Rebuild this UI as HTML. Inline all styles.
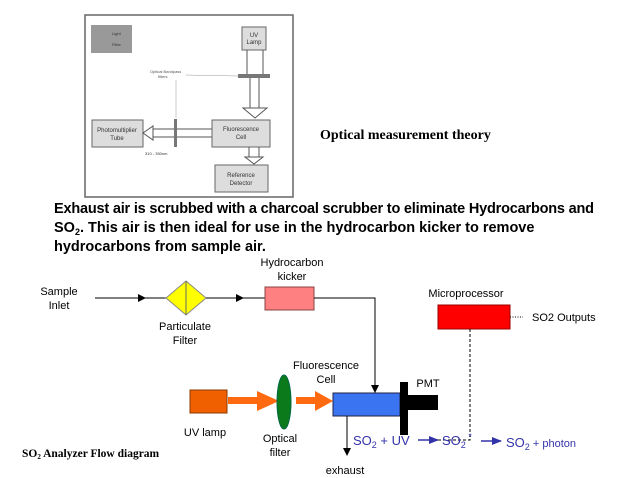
<!DOCTYPE html>
<html><head><meta charset="utf-8"><style>
html,body{margin:0;padding:0;background:#fff;width:638px;height:478px;overflow:hidden}
svg{display:block}
text{font-family:"Liberation Sans",sans-serif}
.s{font-family:"Liberation Serif",serif;font-weight:bold}
</style></head><body>
<svg width="638" height="478" viewBox="0 0 638 478" xmlns="http://www.w3.org/2000/svg">
<defs>
<marker id="ab" markerWidth="8" markerHeight="8" refX="7" refY="4" orient="auto" markerUnits="userSpaceOnUse"><path d="M0,0 L8,4 L0,8 Z" fill="#000"/></marker>
<marker id="bb" markerWidth="10" markerHeight="8" refX="9" refY="4" orient="auto" markerUnits="userSpaceOnUse"><path d="M0,0 L10,4 L0,8 Z" fill="#3333aa"/></marker>
</defs>
<rect x="85" y="15" width="208" height="182" fill="#fff" stroke="#666" stroke-width="1.5"/>
<rect x="91" y="25" width="41" height="28" fill="#999"/>
<text x="112" y="35" font-size="4" fill="#333">Light</text>
<text x="112" y="46" font-size="4" fill="#333">Filter</text>
<rect x="242" y="27" width="24" height="23" fill="#ddd" stroke="#666"/>
<text x="254" y="37" font-size="6" text-anchor="middle" fill="#333">UV</text>
<text x="254" y="44" font-size="6" text-anchor="middle" fill="#333">Lamp</text>
<line x1="247" y1="50" x2="247" y2="75" stroke="#555"/><line x1="263" y1="50" x2="263" y2="75" stroke="#555"/>
<rect x="238" y="74" width="32" height="4" fill="#777"/>
<line x1="250" y1="78" x2="250" y2="108" stroke="#555"/><line x1="259" y1="78" x2="259" y2="108" stroke="#555"/>
<path d="M243,108 L267,108 L255,118 Z" fill="#fff" stroke="#555"/>
<text x="150" y="73" font-size="4" fill="#555">Optical Bandpass</text>
<text x="158" y="78" font-size="4" fill="#555">filters</text>
<line x1="186" y1="75" x2="238" y2="76" stroke="#999" stroke-width="0.5"/>
<line x1="176" y1="80" x2="176" y2="118" stroke="#999" stroke-width="0.5"/>
<rect x="92" y="120" width="51" height="27" fill="#ddd" stroke="#666"/>
<text x="117" y="132" font-size="6" text-anchor="middle" fill="#333">Photomultiplier</text>
<text x="117" y="140" font-size="6" text-anchor="middle" fill="#333">Tube</text>
<path d="M143,133 L153,126 L153,140 Z" fill="#fff" stroke="#555"/>
<line x1="153" y1="129" x2="212" y2="129" stroke="#555"/><line x1="153" y1="137" x2="212" y2="137" stroke="#555"/>
<rect x="174" y="119" width="3" height="28" fill="#777"/>
<text x="145" y="155" font-size="4" fill="#333">310 - 350nm</text>
<rect x="212" y="120" width="58" height="27" fill="#ddd" stroke="#666"/>
<text x="241" y="131" font-size="6" text-anchor="middle" fill="#333">Fluorescence</text>
<text x="241" y="139" font-size="6" text-anchor="middle" fill="#333">Cell</text>
<line x1="249" y1="147" x2="249" y2="157" stroke="#555"/><line x1="259" y1="147" x2="259" y2="157" stroke="#555"/>
<path d="M245,157 L263,157 L254,164 Z" fill="#fff" stroke="#555"/>
<rect x="215" y="165" width="53" height="27" fill="#ddd" stroke="#666"/>
<text x="241" y="177" font-size="6" text-anchor="middle" fill="#333">Reference</text>
<text x="241" y="185" font-size="6" text-anchor="middle" fill="#333">Detector</text>
<text x="320" y="139" class="s" font-size="14">Optical measurement theory</text>
<text x="54" y="213" font-size="14.5" font-weight="bold" textLength="540">Exhaust air is scrubbed with a charcoal scrubber to eliminate Hydrocarbons and</text>
<text x="54" y="232" font-size="14.5" font-weight="bold">SO<tspan font-size="9" dy="3">2</tspan><tspan dy="-3">. This air is then ideal for use in the hydrocarbon kicker to remove</tspan></text>
<text x="54" y="251" font-size="14.5" font-weight="bold">hydrocarbons from sample air.</text>
<text x="59" y="295" font-size="11" text-anchor="middle">Sample</text>
<text x="59" y="309" font-size="11" text-anchor="middle">Inlet</text>
<line x1="95" y1="298" x2="145" y2="298" stroke="#000" marker-end="url(#ab)"/>
<line x1="140" y1="298" x2="167" y2="298" stroke="#000"/>
<path d="M186,281 L206,298 L186,315 L166,298 Z" fill="#ffff00" stroke="#888"/>
<line x1="186" y1="281" x2="186" y2="315" stroke="#666"/>
<text x="185" y="330" font-size="11" text-anchor="middle">Particulate</text>
<text x="185" y="344" font-size="11" text-anchor="middle">Filter</text>
<line x1="206" y1="298" x2="243" y2="298" stroke="#000" marker-end="url(#ab)"/>
<line x1="238" y1="298" x2="265" y2="298" stroke="#000"/>
<text x="292" y="266" font-size="11" text-anchor="middle">Hydrocarbon</text>
<text x="292" y="280" font-size="11" text-anchor="middle">kicker</text>
<rect x="265" y="287" width="49" height="23" fill="#ff8080" stroke="#8a4444"/>
<polyline points="314,298 375,298 375,393" fill="none" stroke="#000"/>
<line x1="375" y1="360" x2="375" y2="392" stroke="#000" marker-end="url(#ab)"/>
<text x="466" y="297" font-size="11" text-anchor="middle">Microprocessor</text>
<rect x="438" y="305" width="72" height="24" fill="#ff0000" stroke="#900"/>
<line x1="510" y1="317" x2="523" y2="317" stroke="#000" stroke-dasharray="1,1.5"/>
<text x="532" y="321" font-size="11">SO2  Outputs</text>
<polyline points="470,329 470,440 438,440" fill="none" stroke="#000" stroke-dasharray="3,2"/>
<text x="326" y="369" font-size="11" text-anchor="middle">Fluorescence</text>
<text x="326" y="383" font-size="11" text-anchor="middle">Cell</text>
<text x="428" y="387" font-size="11" text-anchor="middle">PMT</text>
<rect x="333" y="393" width="67" height="23" fill="#3a74f0" stroke="#224"/>
<rect x="400" y="382" width="8" height="53" fill="#000"/>
<rect x="408" y="395" width="30" height="15" fill="#000"/>
<rect x="190" y="390" width="37" height="23" fill="#f06000" stroke="#8a3a00"/>
<rect x="228" y="397" width="30" height="7" fill="#ff6a10"/>
<path d="M257,391 L279,401 L257,411 Z" fill="#ff6a10"/>
<ellipse cx="284" cy="402" rx="7" ry="27" fill="#0a7a1a" stroke="#064"/>
<rect x="296" y="397" width="20" height="7" fill="#ff6a10"/>
<path d="M315,391 L333,401 L315,411 Z" fill="#ff6a10"/>
<text x="205" y="436" font-size="11" text-anchor="middle">UV lamp</text>
<text x="280" y="442" font-size="11" text-anchor="middle">Optical</text>
<text x="280" y="456" font-size="11" text-anchor="middle">filter</text>
<line x1="347" y1="416" x2="347" y2="455" stroke="#000" marker-end="url(#ab)"/>
<text x="345" y="474" font-size="11" text-anchor="middle">exhaust</text>
<g fill="#3333aa">
<text x="353" y="445" font-size="13">SO<tspan font-size="9" dy="3">2</tspan><tspan dy="-3"> + UV</tspan></text>
<line x1="418" y1="440" x2="438" y2="440" stroke="#3333aa" stroke-width="1.5" marker-end="url(#bb)"/>
<text x="442" y="445" font-size="13">SO<tspan font-size="9" dy="3">2</tspan><tspan dy="-8" font-size="9"> *</tspan></text>
<line x1="481" y1="441" x2="501" y2="441" stroke="#3333aa" stroke-width="1.5" marker-end="url(#bb)"/>
<text x="506" y="447" font-size="13">SO<tspan font-size="9" dy="3">2</tspan><tspan dy="-3" font-size="11"> + photon</tspan></text>
</g>
<text x="22" y="457" class="s" font-size="11.5">SO<tspan font-size="7" dy="2">2</tspan><tspan dy="-2"> Analyzer Flow diagram</tspan></text>
</svg>
</body></html>
